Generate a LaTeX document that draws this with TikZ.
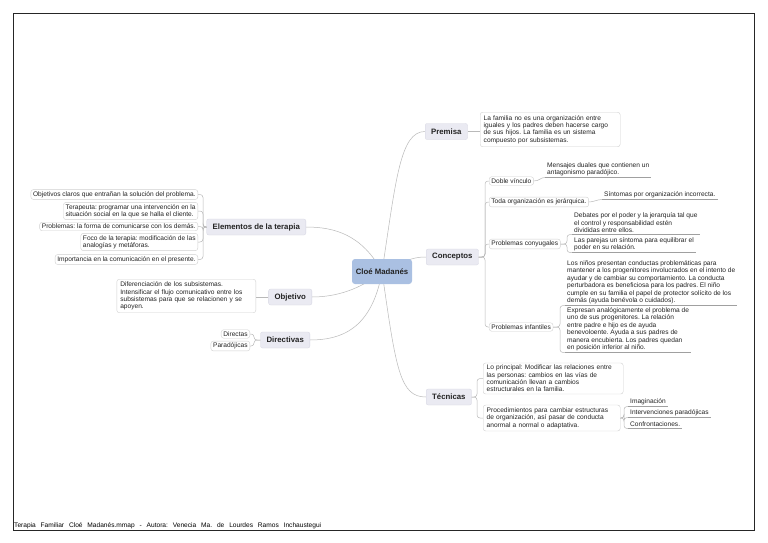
\documentclass[tikz,border=0pt]{standalone}
\usepackage{fontspec}
\setmainfont{Liberation Sans}
\usetikzlibrary{backgrounds}
\definecolor{centfill}{RGB}{170,192,226}
\definecolor{topfill}{RGB}{234,234,242}
\definecolor{topline}{RGB}{214,214,226}
\definecolor{txt}{RGB}{35,35,35}
\definecolor{connc}{RGB}{185,185,185}
\definecolor{subline}{RGB}{208,208,208}
\definecolor{ulcol}{RGB}{160,160,160}
\newcommand\mmsmall{\fontsize{6.6}{7.4}\selectfont\frenchspacing}
\newcommand\mmbold{\fontsize{7.8}{9}\selectfont\bfseries}
\begin{document}
\frenchspacing
\begin{tikzpicture}[x=1pt,y=-1pt,
  every node/.style={text=txt},
  central/.style={fill=centfill, rounded corners=3pt, minimum width=60pt, minimum height=25pt, inner sep=0pt, font=\mmbold},
  topic/.style={fill=topfill, draw=topline, line width=0.3pt, rounded corners=2pt, minimum height=16pt, inner xsep=6pt, inner ysep=0pt, font=\mmbold},
  sub/.style={draw=subline, line width=0.4pt, fill=white, rounded corners=2.5pt, font=\mmsmall, align=left, inner xsep=2.2pt, inner ysep=1.8pt},
  ul/.style={font=\mmsmall, align=left, inner xsep=2pt, inner ysep=1.5pt, anchor=south west},
  cl/.style={draw=connc, line width=0.5pt},
  br/.style={cl, rounded corners=3pt},
  ulc/.style={draw=ulcol, line width=0.5pt}]
\useasboundingbox (0,0) rectangle (768,543);

% central
\node[central] (cen) at (382,271.5) {Cloé Madanés};

% Premisa
\node[topic, anchor=west] (prem) at (425,131.5) {Premisa};
\node[sub, text width=133pt, inner xsep=3.5pt, inner ysep=3pt, anchor=west] (premt) at (480,129.5) {La familia no es una organización entre\\iguales y los padres deben hacerse cargo\\de sus hijos. La familia es un sistema\\compuesto por subsistemas.};

% Conceptos
\node[topic, anchor=west] (conc) at (426,257) {Conceptos};
\node[sub, anchor=west] (dv) at (489,181) {Doble vínculo};
\node[sub, anchor=west] (toda) at (489,202) {Toda organización es jerárquica.};
\node[sub, anchor=west] (pc) at (489,244) {Problemas conyugales};
\node[sub, anchor=west] (pi) at (489,327) {Problemas infantiles};
\node[ul] (md) at (545,177.5) {Mensajes duales que contienen un\\antagonismo paradójico.};
\node[ul] (sin) at (602,199.5) {Síntomas por organización incorrecta.};
\node[ul] (deb) at (572,234.5) {Debates por el poder y la jerarquía tal que\\el control y responsabilidad estén\\divididas entre ellos.};
\node[ul] (par) at (572,252.5) {Las parejas un síntoma para equilibrar el\\poder en su relación.};
\node[ul] (nin) at (565,305.5) {Los niños presentan conductas problemáticas para\\mantener a los progenitores involucrados en el intento de\\ayudar y de cambiar su comportamiento. La conducta\\perturbadora es beneficiosa para los padres. El niño\\cumple en su familia el papel de protector solícito de los\\demás (ayuda benévola o cuidados).};
\node[ul] (exr) at (565,352.5) {Expresan analógicamente el problema de\\uno de sus progenitores. La relación\\entre padre e hijo es de ayuda\\benevoloente. Ayuda a sus padres de\\manera encubierta. Los padres quedan\\en posición inferior al niño.};

% Tecnicas
\node[topic, anchor=west] (tec) at (426,397) {Técnicas};
\node[sub, text width=133pt, inner xsep=3.5pt, inner ysep=2pt, anchor=west] (lop) at (483,378.5) {Lo principal: Modificar las relaciones entre\\las personas: cambios en las vías de\\comunicación llevan a cambios\\estructurales en la familia.};
\node[sub, text width=130pt, inner xsep=3.5pt, inner ysep=2.5pt, anchor=west] (proc) at (483,418) {Procedimientos para cambiar estructuras\\de organización, así pasar de conducta\\anormal a normal o adaptativa.};
\node[ul] (ima) at (628,406.5) {Imaginación};
\node[ul] (inv) at (628,417.5) {Intervenciones paradójicas};
\node[ul] (cnf) at (628,428.5) {Confrontaciones.};

% Elementos
\node[topic, anchor=east] (elem) at (306,227) {Elementos de la terapia};
\node[sub, anchor=east] (e1) at (198,194.5) {Objetivos claros que entrañan la solución del problema.};
\node[sub, anchor=east] (e2) at (198,211) {Terapeuta: programar una intervención en la\\situación social en la que se halla el cliente.};
\node[sub, anchor=east] (e3) at (198,226.5) {Problemas: la forma de comunicarse con los demás.};
\node[sub, anchor=east] (e4) at (198,242) {Foco de la terapia: modificación de las\\analogías y metáforas.};
\node[sub, anchor=east] (e5) at (198,259.5) {Importancia en la comunicación en el presente.};

% Objetivo
\node[topic, anchor=east] (obj) at (312,297) {Objetivo};
\node[sub, text width=132pt, inner xsep=3.5pt, inner ysep=2.5pt, anchor=east] (objt) at (256,296) {Diferenciación de los subsistemas.\\Intensificar el flujo comunicativo entre los\\subsistemas para que se relacionen y se\\apoyen.};

% Directivas
\node[topic, anchor=east] (dir) at (310,340) {Directivas};
\node[sub, anchor=east] (d1) at (250,334) {Directas};
\node[sub, anchor=east] (d2) at (250,346) {Paradójicas};

% footer
\node[anchor=base west, inner sep=0pt, font=\mmsmall, text=black] (foot) at (14,527.5) {\makebox[307pt][s]{Terapia Familiar Cloé Madanés.mmap - Autora: Venecia Ma. de Lourdes Ramos Inchaustegui}};

% frame
\draw[line width=0.9pt, black!85] (13,13) rectangle (754,530);

% main curves
\begin{scope}[on background layer]
\fill[white] (0,0) rectangle (768,543);
\draw[cl] (cen.center) .. controls (396,180) and (400,131.5) .. (prem.west);
\draw[cl] (cen.center) .. controls (405,262) and (410,257) .. (conc.west);
\draw[cl] (cen.center) .. controls (396,370) and (400,397) .. (tec.west);
\draw[cl] (cen.center) .. controls (362,235) and (335,227) .. (elem.east);
\draw[cl] (cen.center) .. controls (360,290) and (335,297) .. (obj.east);
\draw[cl] (cen.center) .. controls (372,330) and (340,340) .. (dir.east);
\end{scope}

% sub connectors
\draw[cl] (prem.east) -- (premt.west |- prem.east);
\foreach \c in {dv,toda,pc,pi} \draw[br] (conc.east) -- (485,257) |- (\c.west);
\draw[cl] (dv.east) .. controls +(6,0) and +(-5,0) .. (md.south west);
\draw[cl] (toda.east) .. controls +(5,0) and +(-5,0) .. (sin.south west);
\foreach \c in {deb,par} \draw[br] (pc.east) -- (567,244) |- (\c.south west);
\foreach \c in {nin,exr} \draw[br] (pi.east) -- (560,327) |- (\c.south west);
\foreach \c in {lop,proc} \draw[br] (tec.east) -- (477,397) |- (\c.west);
\foreach \c in {ima,inv,cnf} \draw[br] (proc.east) -- (624,418) |- (\c.south west);
\foreach \c in {e1,e2,e3,e4,e5} \draw[br] (elem.west) -- (203,227) |- (\c.east);
\draw[cl] (obj.west) -- (objt.east |- obj.west);
\foreach \c in {d1,d2} \draw[br] (dir.west) -- (254,340) |- (\c.east);
\foreach \n in {md,sin,deb,par,nin,exr,ima,inv,cnf} \draw[ulc] (\n.south west) -- (\n.south east);
\end{tikzpicture}
\end{document}
